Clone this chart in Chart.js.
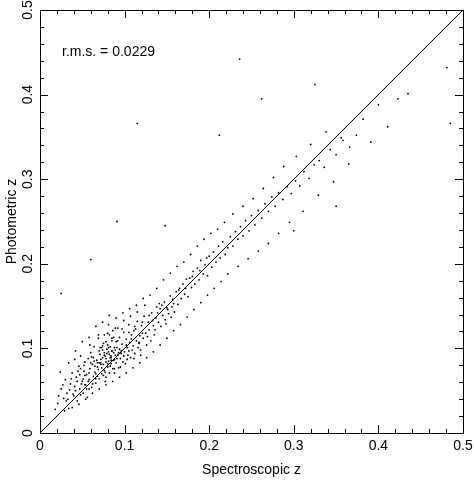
<!DOCTYPE html>
<html><head><meta charset="utf-8">
<script src="https://cdn.jsdelivr.net/npm/chart.js@4/dist/chart.umd.min.js"></script>
<style>html,body{margin:0;padding:0;background:#fff}#c{display:block}</style>
</head><body><canvas id="c" width="474" height="481"></canvas>
<script>
const specZ = [
.021,.025,.028,.030,.032,.034,.036,.038,.040,.041,
.043,.044,.046,.047,.048,.050,.051,.052,.053,.054,
.055,.056,.057,.058,.059,.060,.061,.062,.063,.064,
.065,.066,.067,.068,.069,.070,.071,.072,.073,.074,
.075,.075,.076,.077,.078,.078,.079,.080,.080,.081,
.082,.082,.083,.084,.084,.085,.086,.087,.088,.089,
.090,.091,.092,.093,.094,.095,.096,.097,.098,.099,
.100,.101,.102,.103,.104,.105,.106,.107,.108,.110,
.111,.112,.114,.115,.116,.118,.119,.120,.122,.123,
.125,.126,.128,.129,.131,.132,.134,.135,.137,.138,
.140,.142,.143,.145,.147,.148,.150,.152,.154,.155,
.157,.159,.161,.163,.165,.167,.169,.171,.173,.175,
.177,.179,.181,.183,.186,.188,.190,.193,.195,.198,
.200,.203,.205,.208,.211,.213,.216,.219,.222,.225,
.228,.231,.234,.237,.240,.243,.247,.250,.254,.258,
.262,.266,.270,.274,.278,.282,.287,.292,.297,.302,
.307,.312,.318,.324,.330,.336,.343,.350,.358,.366,
.374,.382,.391,.400,.411,.423,.435,.481,.485,.300,
.025,.060,.091,.115,.148,.212,.236,.262,.325,.350,
.033,.037,.042,.045,.049,.052,.057,.061,.065,.068,
.071,.073,.076,.078,.080,.083,.085,.087,.089,.091,
.094,.097,.099,.102,.105,.108,.112,.117,.121,.127,
.133,.139,.144,.151,.158,.164,.172,.180,.189,.197,
.018,.022,.027,.031,.035,.039,.044,.048,.053,.058,
.062,.066,.070,.074,.077,.081,.084,.088,.092,.096,
.024,.029,.034,.038,.042,.046,.050,.054,.058,.062,
.066,.070,.074,.078,.082,.086,.090,.094,.098,.102,
.106,.110,.114,.118,.122,.126,.130,.134,.138,.142,
.146,.150,.154,.158,.162,.166,.170,.174,.178,.182,
.186,.190,.194,.198,.202,.206,.210,.214,.218,.222,
.228,.234,.240,.246,.252,.258,.264,.270,.276,.282,
.288,.295,.303,.311,.320,.329,.338,.347,.356,.365,
.041,.047,.053,.059,.064,.069,.073,.077,.081,.085,
.088,.092,.095,.099,.103,.107,.111,.115,.119,.124,
.079,.081,.083,.085,.087,.076,.072,.068,.089,.093,
.078,.080,.082,.084,.086,.088,.090,.070,.074,.076,
.105,.109,.113,.117,.121,.129,.136,.141,.149,.156,
.048,.051,.055,.058,.060,.063,.066,.069,.072,.075];
const photZ = [
.035,.052,.041,.063,.047,.029,.058,.071,.044,.055,
.066,.038,.079,.052,.091,.061,.047,.073,.084,.057,
.069,.042,.088,.063,.076,.095,.054,.081,.067,.102,
.072,.059,.086,.078,.112,.064,.093,.083,.070,.098,
.081,.106,.074,.091,.066,.088,.099,.078,.118,.085,
.093,.071,.102,.082,.089,.109,.076,.095,.087,.124,
.083,.101,.092,.077,.113,.088,.097,.105,.084,.119,
.096,.082,.111,.101,.092,.128,.107,.089,.116,.103,
.121,.094,.109,.132,.101,.115,.098,.127,.112,.138,
.118,.104,.131,.122,.109,.142,.127,.116,.136,.149,
.131,.147,.126,.139,.155,.134,.148,.141,.162,.137,
.158,.143,.167,.152,.171,.159,.176,.164,.182,.161,
.183,.172,.191,.176,.195,.181,.204,.188,.199,.186,
.209,.196,.214,.202,.221,.207,.226,.211,.219,.232,
.221,.238,.229,.244,.233,.251,.239,.257,.246,.263,
.254,.271,.262,.279,.268,.284,.276,.291,.283,.298,
.292,.309,.301,.317,.322,.314,.335,.329,.346,.338,
.352,.371,.344,.388,.362,.395,.401,.432,.366,.239,
.165,.205,.250,.366,.245,.352,.442,.395,.412,.268,
.040,.064,.050,.073,.058,.080,.061,.090,.079,.067,
.101,.077,.095,.084,.104,.079,.097,.113,.092,.088,
.099,.123,.091,.104,.097,.111,.126,.106,.131,.114,
.133,.142,.151,.146,.153,.169,.171,.185,.192,.207,
.028,.044,.057,.038,.051,.046,.061,.045,.068,.052,
.058,.070,.083,.089,.072,.096,.086,.101,.109,.094,
.072,.026,.083,.030,.097,.034,.108,.040,.113,.047,
.126,.052,.131,.057,.139,.061,.136,.066,.142,.071,
.147,.077,.151,.083,.159,.089,.163,.096,.171,.104,
.181,.112,.189,.121,.197,.128,.202,.137,.211,.146,
.221,.154,.229,.163,.236,.171,.241,.179,.249,.188,
.259,.197,.268,.206,.277,.215,.289,.224,.302,.236,
.315,.249,.327,.262,.341,.281,.356,.297,.349,.318,
.087,.069,.057,.104,.085,.116,.101,.061,.128,.112,
.071,.124,.078,.133,.087,.138,.088,.143,.092,.151,
.094,.101,.089,.097,.086,.092,.087,.083,.098,.095,
.108,.082,.116,.091,.121,.076,.108,.097,.103,.116,
.119,.098,.123,.107,.118,.139,.122,.153,.129,.149,
.076,.064,.052,.071,.083,.089,.064,.075,.081,.068];
const tickValues = [0,0.1,0.2,0.3,0.4,0.5];
const tickLabels = ["0","0.1","0.2","0.3","0.4","0.5"];
const minorStep = 0.02;
const rmsText = "r.m.s. = 0.0229";

const FONT = '14px "Liberation Sans", Arial, sans-serif';
const frame = {
  id:'frame',
  afterDraw(chart){
    const {ctx, chartArea:a, scales:{x,y}} = chart;
    ctx.save();
    ctx.strokeStyle='#000'; ctx.lineWidth=1;
    ctx.strokeRect(a.left+0.5,a.top+0.5,a.right-a.left,a.bottom-a.top);
    ctx.beginPath();
    for(let i=0;i<=25;i++){
      const v=i*minorStep, major=(i%5===0), L=major?8:4;
      const px=Math.round(x.getPixelForValue(v))+0.5, py=Math.round(y.getPixelForValue(v))+0.5;
      ctx.moveTo(px,a.bottom); ctx.lineTo(px,a.bottom-L);
      ctx.moveTo(px,a.top); ctx.lineTo(px,a.top+L);
      ctx.moveTo(a.left,py); ctx.lineTo(a.left+L,py);
      ctx.moveTo(a.right,py); ctx.lineTo(a.right-L,py);
    }
    ctx.stroke();
    ctx.fillStyle='#000'; ctx.font=FONT;
    ctx.textAlign='center'; ctx.textBaseline='top';
    tickValues.forEach((v,i)=>ctx.fillText(tickLabels[i], x.getPixelForValue(v), a.bottom+6));
    tickValues.forEach((v,i)=>{
      ctx.save(); ctx.translate(a.left-12, y.getPixelForValue(v)); ctx.rotate(-Math.PI/2);
      ctx.textBaseline='middle'; ctx.fillText(tickLabels[i],0,0); ctx.restore();
    });
    ctx.fillText('Spectroscopic z',(a.left+a.right)/2,a.bottom+30);
    ctx.save(); ctx.translate(12,(a.top+a.bottom)/2); ctx.rotate(-Math.PI/2);
    ctx.textBaseline='middle'; ctx.fillText('Photometric z',0,0); ctx.restore();
    ctx.textAlign='left'; ctx.textBaseline='middle';
    ctx.fillText(rmsText, x.getPixelForValue(0.026), y.getPixelForValue(0.45));
    ctx.restore();
  }
};
new Chart(document.getElementById('c'),{
  type:'scatter',
  data:{datasets:[
    {data:specZ.map((v,i)=>({x:v,y:photZ[i]})), pointRadius:0.9, pointBackgroundColor:'#000', pointBorderWidth:0},
    {data:[{x:0,y:0},{x:0.5,y:0.5}], showLine:true, borderColor:'#000', borderWidth:1, pointRadius:0}
  ]},
  options:{
    responsive:false, animation:false, devicePixelRatio:1,
    layout:{padding:{left:40,top:10,right:11,bottom:48}},
    plugins:{legend:{display:false},tooltip:{enabled:false}},
    scales:{
      x:{type:'linear',min:0,max:0.5,display:false},
      y:{type:'linear',min:0,max:0.5,display:false}
    }
  },
  plugins:[frame]
});
</script></body></html>
